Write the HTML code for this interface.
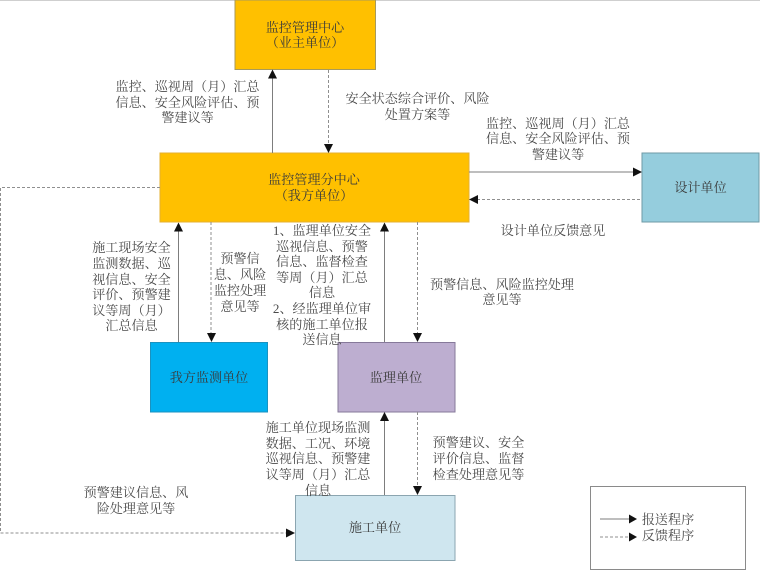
<!DOCTYPE html>
<html lang="zh-CN">
<head>
<meta charset="utf-8">
<title>监控管理流程图</title>
<style>
html,body{margin:0;padding:0;background:#fff;width:760px;height:570px;overflow:hidden}
svg{display:block;filter:blur(0.35px)}
text{font-family:"Liberation Serif","Noto Serif CJK SC",serif;font-size:13.1px;fill:#4a4a4a;text-anchor:middle}
.n{fill:#3a3a3a}
.s{stroke:#7d7d7d;stroke-width:1;fill:none}
.d{stroke:#8f8f8f;stroke-width:1;stroke-dasharray:3 2;fill:none}
</style>
</head>
<body>
<svg width="760" height="570" viewBox="0 0 760 570" xmlns="http://www.w3.org/2000/svg">
<rect width="760" height="570" fill="#fff"/>
<rect x="0" y="0" width="760" height="1" fill="#cfcfcf"/>

<!-- boxes -->
<rect x="235" y="0" width="140.500" height="69.500" fill="#ffc000" stroke="#a89a5a"/>
<rect x="160" y="153" width="309" height="69" fill="#ffc000" stroke="#e5b030"/>
<rect x="642" y="153" width="117" height="69" fill="#95cddd" stroke="#6f9aa6"/>
<rect x="150.500" y="342.500" width="117" height="69.500" fill="#00b0f0" stroke="#1a92c0"/>
<rect x="338" y="342.500" width="117" height="69.500" fill="#bdaed0" stroke="#86799a"/>
<rect x="295.500" y="495.500" width="159.500" height="65" fill="#cfe6ef" stroke="#8ba5b0"/>
<rect x="590.500" y="486.500" width="155" height="83" fill="#fff" stroke="#8a8a8a"/>

<!-- connectors -->
<path class="s" d="M272.500 153V76"/>
<path d="M272.500 69.500l-4.500 9h9z" fill="#111"/>
<path class="d" d="M328.500 70V147"/>
<path d="M328.500 153l-4.500-9h9z" fill="#111"/>

<path class="s" d="M469 172H636"/>
<path d="M642 172l-9-4.500v9z" fill="#111"/>
<path class="d" d="M640 199.500H476"/>
<path d="M469 199.500l9-4.500v9z" fill="#111"/>

<path class="s" d="M178.500 342V229"/>
<path d="M178.500 222.500l-4.500 9h9z" fill="#111"/>
<path class="d" d="M211 222V336"/>
<path d="M211.500 342l-4.500-9h9z" fill="#111"/>

<path class="s" d="M384.500 342V229"/>
<path d="M384.500 222.500l-4.500 9h9z" fill="#111"/>
<path class="d" d="M417.500 222V336"/>
<path d="M417.500 342l-4.500-9h9z" fill="#111"/>

<path class="s" d="M384.500 495V419"/>
<path d="M384.500 412l-4.500 9h9z" fill="#111"/>
<path class="d" d="M417.500 412V489"/>
<path d="M417.500 495l-4.500-9h9z" fill="#111"/>

<path class="d" d="M160 187.500H0.500V533H288"/>
<path d="M295 533l-9-4.500v9z" fill="#111"/>

<!-- legend -->
<path class="s" d="M600 519H630"/>
<path d="M637 519l-8-4.500v9z" fill="#111"/>
<path class="d" d="M600 537H630"/>
<path d="M637 537l-8-4.500v9z" fill="#111"/>
<text x="668" y="524">报送程序</text>
<text x="668" y="540">反馈程序</text>

<!-- node labels -->
<text class="n" x="305" y="32">监控管理中心</text>
<text class="n" x="305" y="47">（业主单位）</text>
<text class="n" x="314" y="184">监控管理分中心</text>
<text class="n" x="314" y="200">（我方单位）</text>
<text class="n" x="700.500" y="192">设计单位</text>
<text class="n" x="209" y="382">我方监测单位</text>
<text class="n" x="396" y="382">监理单位</text>
<text class="n" x="375" y="532">施工单位</text>

<!-- edge labels -->
<text x="187.500" y="91">监控、巡视周（月）汇总</text>
<text x="187.500" y="107">信息、安全风险评估、预</text>
<text x="187.500" y="122">警建议等</text>

<text x="417.500" y="103">安全状态综合评价、风险</text>
<text x="417.500" y="119">处置方案等</text>

<text x="558" y="128">监控、巡视周（月）汇总</text>
<text x="558" y="143">信息、安全风险评估、预</text>
<text x="558" y="159">警建议等</text>

<text x="553" y="235">设计单位反馈意见</text>

<text x="131.500" y="252">施工现场安全</text>
<text x="131.500" y="268">监测数据、巡</text>
<text x="131.500" y="284">视信息、安全</text>
<text x="131.500" y="299">评价、预警建</text>
<text x="131.500" y="315">议等周（月）</text>
<text x="131.500" y="330">汇总信息</text>

<text x="240" y="263">预警信</text>
<text x="240" y="279">息、风险</text>
<text x="240" y="295">监控处理</text>
<text x="240" y="311">意见等</text>

<text x="322" y="235">1、监理单位安全</text>
<text x="322" y="251">巡视信息、预警</text>
<text x="322" y="266">信息、监督检查</text>
<text x="322" y="282">等周（月）汇总</text>
<text x="322" y="297">信息</text>
<text x="322" y="313">2、经监理单位审</text>
<text x="322" y="329">核的施工单位报</text>
<text x="322" y="344">送信息</text>

<text x="502" y="289">预警信息、风险监控处理</text>
<text x="502" y="304">意见等</text>

<text x="318" y="432">施工单位现场监测</text>
<text x="318" y="448">数据、工况、环境</text>
<text x="318" y="463">巡视信息、预警建</text>
<text x="318" y="479">议等周（月）汇总</text>
<text x="318" y="495">信息</text>

<text x="478.500" y="447">预警建议、安全</text>
<text x="478.500" y="463">评价信息、监督</text>
<text x="478.500" y="479">检查处理意见等</text>

<text x="136" y="497">预警建议信息、风</text>
<text x="136" y="513">险处理意见等</text>
</svg>
</body>
</html>
